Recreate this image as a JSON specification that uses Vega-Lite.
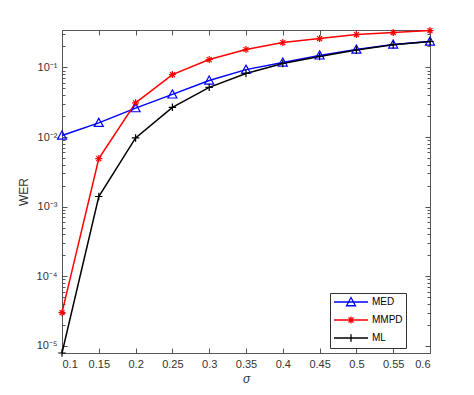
{
  "$schema": "https://vega.github.io/schema/vega-lite/v6.json",
  "width": 368,
  "height": 323,
  "autosize": "none",
  "padding": {"left": 62, "top": 30, "right": 44, "bottom": 42},
  "background": "white",
  "config": {
    "view": {"stroke": null},
    "font": "Liberation Sans",
    "axis": {
      "grid": false,
      "domainColor": "#555555",
      "tickColor": "#555555",
      "labelColor": "#333333",
      "titleColor": "#333333",
      "labelFontSize": 11,
      "labelFont": "Liberation Sans",
      "titleFont": "Liberation Sans",
      "titleFontWeight": "normal",
      "domainWidth": 1,
      "tickWidth": 1
    }
  },
  "data": {
    "values": [
      {"sigma": 0.1, "series": "MED", "wer": 0.0105},
      {"sigma": 0.15, "series": "MED", "wer": 0.016},
      {"sigma": 0.2, "series": "MED", "wer": 0.026},
      {"sigma": 0.25, "series": "MED", "wer": 0.041},
      {"sigma": 0.3, "series": "MED", "wer": 0.065},
      {"sigma": 0.35, "series": "MED", "wer": 0.093},
      {"sigma": 0.4, "series": "MED", "wer": 0.118},
      {"sigma": 0.45, "series": "MED", "wer": 0.149},
      {"sigma": 0.5, "series": "MED", "wer": 0.181},
      {"sigma": 0.55, "series": "MED", "wer": 0.214},
      {"sigma": 0.6, "series": "MED", "wer": 0.236},
      {"sigma": 0.1, "series": "MMPD", "wer": 0.00003},
      {"sigma": 0.15, "series": "MMPD", "wer": 0.0049},
      {"sigma": 0.2, "series": "MMPD", "wer": 0.031},
      {"sigma": 0.25, "series": "MMPD", "wer": 0.079},
      {"sigma": 0.3, "series": "MMPD", "wer": 0.13},
      {"sigma": 0.35, "series": "MMPD", "wer": 0.181},
      {"sigma": 0.4, "series": "MMPD", "wer": 0.228},
      {"sigma": 0.45, "series": "MMPD", "wer": 0.26},
      {"sigma": 0.5, "series": "MMPD", "wer": 0.297},
      {"sigma": 0.55, "series": "MMPD", "wer": 0.317},
      {"sigma": 0.6, "series": "MMPD", "wer": 0.339},
      {"sigma": 0.1, "series": "ML", "wer": 0.0000079},
      {"sigma": 0.15, "series": "ML", "wer": 0.0014},
      {"sigma": 0.2, "series": "ML", "wer": 0.0097},
      {"sigma": 0.25, "series": "ML", "wer": 0.0267},
      {"sigma": 0.3, "series": "ML", "wer": 0.0517},
      {"sigma": 0.35, "series": "ML", "wer": 0.082},
      {"sigma": 0.4, "series": "ML", "wer": 0.114},
      {"sigma": 0.45, "series": "ML", "wer": 0.144},
      {"sigma": 0.5, "series": "ML", "wer": 0.178},
      {"sigma": 0.55, "series": "ML", "wer": 0.212},
      {"sigma": 0.6, "series": "ML", "wer": 0.236}
    ]
  },
  "resolve": {"axis": {"x": "independent", "y": "independent"}},
  "layer": [
    {
      "mark": {"type": "line", "strokeWidth": 1.5},
      "encoding": {
        "x": {
          "field": "sigma", "type": "quantitative",
          "scale": {"domain": [0.1, 0.6], "nice": false, "zero": false},
          "axis": {
            "orient": "bottom",
            "values": [0.1, 0.15, 0.2, 0.25, 0.3, 0.35, 0.4, 0.45, 0.5, 0.55, 0.6],
            "format": "~g",
            "tickSize": -5,
            "labelPadding": 10,
            "title": "σ",
            "titleFontStyle": "italic",
            "titleFontSize": 12,
            "titlePadding": 4
          }
        },
        "y": {
          "field": "wer", "type": "quantitative",
          "scale": {"type": "log", "domain": [0.0000079, 0.345], "nice": false},
          "axis": {
            "orient": "left",
            "values": [0.00001, 0.0001, 0.001, 0.01, 0.1],
            "labelExpr": "datum.value > 0.05 ? '10⁻¹' : datum.value > 0.005 ? '10⁻²' : datum.value > 0.0005 ? '10⁻³' : datum.value > 0.00005 ? '10⁻⁴' : '10⁻⁵'",
            "tickSize": -5,
            "labelPadding": 10,
            "title": "WER",
            "titleFontSize": 12,
            "titlePadding": 6
          }
        },
        "color": {
          "field": "series", "type": "nominal",
          "scale": {"domain": ["MED", "MMPD", "ML"], "range": ["#0000ff", "#ff0000", "#000000"]},
          "legend": {
            "orient": "none",
            "legendX": 268,
            "legendY": 263,
            "title": null,
            "strokeColor": "#333333",
            "fillColor": "white",
            "padding": 3,
            "symbolSize": 100,
            "symbolStrokeWidth": 1.3,
            "labelFontSize": 10,
            "labelColor": "#000000",
            "labelOffset": 27,
            "rowPadding": 4,
            "encode": {
              "symbols": {
                "update": {
                  "shape": {"signal": "datum.value == 'MED' ? 'M-1,0L5.8,0M2.4,-0.9L3.3,0.75L1.5,0.75Z' : datum.value == 'MMPD' ? 'M-1,0L5.8,0M1.7,0L3.1,0M2.4,-0.7L2.4,0.7M1.9,-0.5L2.9,0.5M1.9,0.5L2.9,-0.5' : 'M-1,0L5.8,0M1.7,0L3.1,0M2.4,-0.75L2.4,0.75'"},
                  "fill": {"value": "transparent"}
                }
              }
            }
          }
        }
      }
    },
    {
      "mark": {"type": "point", "filled": false, "strokeWidth": 1.2, "opacity": 1},
      "encoding": {
        "x": {
          "field": "sigma", "type": "quantitative",
          "axis": {"orient": "top", "values": [0.1, 0.15, 0.2, 0.25, 0.3, 0.35, 0.4, 0.45, 0.5, 0.55, 0.6], "labels": false, "tickSize": -5, "title": null}
        },
        "y": {
          "field": "wer", "type": "quantitative",
          "axis": {"orient": "right", "values": [0.00001, 0.0001, 0.001, 0.01, 0.1], "labels": false, "tickSize": -5, "title": null}
        },
        "color": {"field": "series", "type": "nominal"},
        "shape": {
          "condition": [
            {"test": "datum.series == 'MED'", "value": "M0,-1L1,0.8L-1,0.8Z"},
            {"test": "datum.series == 'MMPD'", "value": "M-1,0L1,0M0,-1L0,1M-0.7,-0.7L0.7,0.7M-0.7,0.7L0.7,-0.7"}
          ],
          "value": "M-1,0L1,0M0,-1L0,1"
        },
        "size": {
          "condition": [
            {"test": "datum.series == 'MED'", "value": 81},
            {"test": "datum.series == 'MMPD'", "value": 49}
          ],
          "value": 56
        }
      }
    },
    {
      "mark": {"type": "point", "opacity": 0},
      "encoding": {
        "x": {"field": "sigma", "type": "quantitative", "axis": null},
        "y": {
          "field": "wer", "type": "quantitative",
          "axis": {"orient": "left", "values": [0.00002, 0.00003, 0.00004, 0.00005, 0.00006, 0.00007, 0.00008, 0.00009, 0.0002, 0.0003, 0.0004, 0.0005, 0.0006, 0.0007, 0.0008, 0.0009, 0.002, 0.003, 0.004, 0.005, 0.006, 0.007, 0.008, 0.009, 0.02, 0.03, 0.04, 0.05, 0.06, 0.07, 0.08, 0.09, 0.2, 0.3], "labels": false, "domain": false, "tickSize": -3, "title": null}
        }
      }
    },
    {
      "mark": {"type": "point", "opacity": 0},
      "encoding": {
        "x": {"field": "sigma", "type": "quantitative", "axis": null},
        "y": {
          "field": "wer", "type": "quantitative",
          "axis": {"orient": "right", "values": [0.00002, 0.00003, 0.00004, 0.00005, 0.00006, 0.00007, 0.00008, 0.00009, 0.0002, 0.0003, 0.0004, 0.0005, 0.0006, 0.0007, 0.0008, 0.0009, 0.002, 0.003, 0.004, 0.005, 0.006, 0.007, 0.008, 0.009, 0.02, 0.03, 0.04, 0.05, 0.06, 0.07, 0.08, 0.09, 0.2, 0.3], "labels": false, "domain": false, "tickSize": -3, "title": null}
        }
      }
    }
  ]
}
